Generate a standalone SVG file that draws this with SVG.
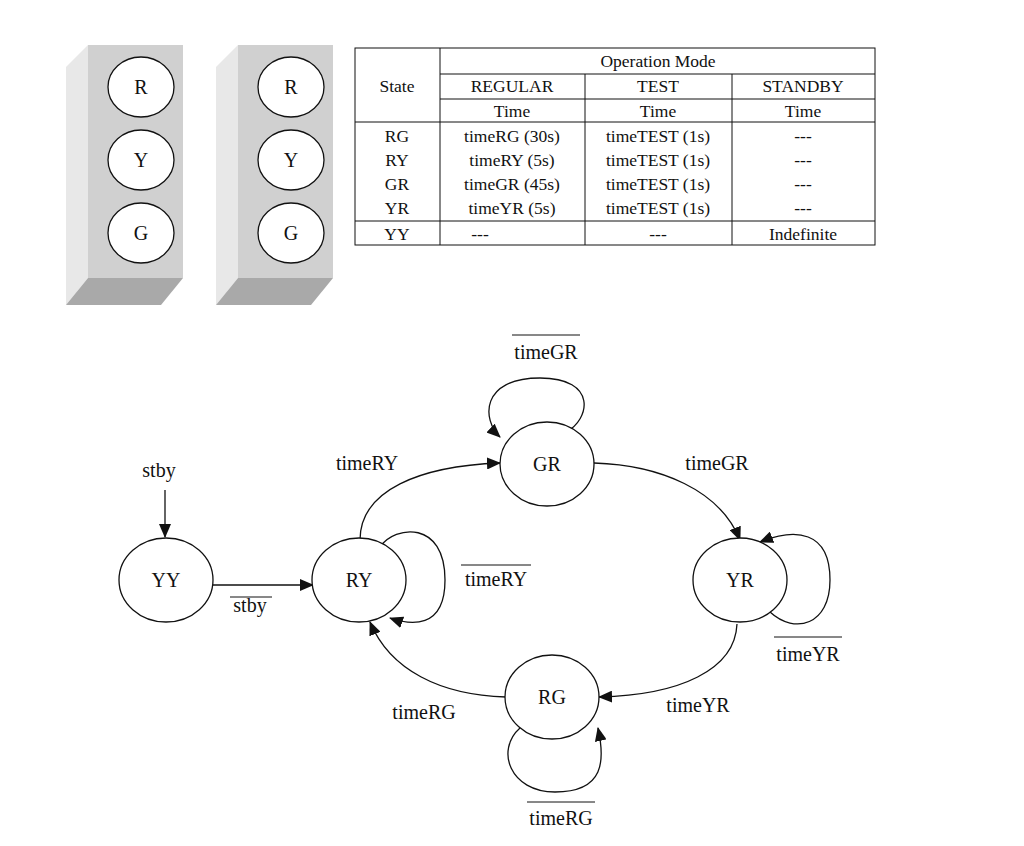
<svg xmlns="http://www.w3.org/2000/svg" width="1024" height="846" viewBox="0 0 1024 846" font-family="'Liberation Serif', 'DejaVu Serif', 'Times New Roman', serif">
<style>
text{font-family:'Liberation Serif','DejaVu Serif',serif;font-size:20px;fill:#111;text-anchor:middle}
text.t{font-size:17.5px}
.n{fill:#fff;stroke:#111;stroke-width:1.3}
.e{fill:none;stroke:#111;stroke-width:1.3}
.g{stroke:#111;stroke-width:1}
</style>
<defs><marker id="a" markerWidth="14" markerHeight="12" refX="13" refY="6" orient="auto" markerUnits="userSpaceOnUse"><path d="M0,0L14,6L0,12z" fill="#111"/></marker></defs>
<rect width="1024" height="846" fill="#fff"/>
<g id="light1">
<polygon points="66,67 88,45 88,278 66,305" fill="#e8e8e8"/>
<rect x="88" y="45" width="95" height="233" fill="#d0d0d0"/>
<polygon points="88,278 183,278 161,305 66,305" fill="#a9a9a9"/>
<ellipse class="n" cx="141" cy="87" rx="33" ry="30"/><text x="141" y="94">R</text>
<ellipse class="n" cx="141" cy="160" rx="33" ry="30"/><text x="141" y="167">Y</text>
<ellipse class="n" cx="141" cy="233" rx="33" ry="30"/><text x="141" y="240">G</text>
</g>
<g id="light2">
<polygon points="216,67 238,45 238,278 216,305" fill="#e8e8e8"/>
<rect x="238" y="45" width="95" height="233" fill="#d0d0d0"/>
<polygon points="238,278 333,278 311,305 216,305" fill="#a9a9a9"/>
<ellipse class="n" cx="291" cy="87" rx="33" ry="30"/><text x="291" y="94">R</text>
<ellipse class="n" cx="291" cy="160" rx="33" ry="30"/><text x="291" y="167">Y</text>
<ellipse class="n" cx="291" cy="233" rx="33" ry="30"/><text x="291" y="240">G</text>
</g>
<g id="table">
<rect x="355" y="48" width="520" height="197" fill="none" class="g"/>
<line class="g" x1="440" y1="48" x2="440" y2="245"/>
<line class="g" x1="440" y1="74" x2="875" y2="74"/>
<line class="g" x1="440" y1="99" x2="875" y2="99"/>
<line class="g" x1="355" y1="122" x2="875" y2="122"/>
<line class="g" x1="355" y1="221" x2="875" y2="221"/>
<line class="g" x1="585" y1="74" x2="585" y2="245"/>
<line class="g" x1="732" y1="74" x2="732" y2="245"/>
<text class="t" x="658" y="67">Operation Mode</text>
<text class="t" x="397" y="92">State</text>
<text class="t" x="512" y="92">REGULAR</text><text class="t" x="658" y="92">TEST</text><text class="t" x="803" y="92">STANDBY</text>
<text class="t" x="512" y="117">Time</text><text class="t" x="658" y="117">Time</text><text class="t" x="803" y="117">Time</text>
<text class="t" x="397" y="142">RG</text><text class="t" x="512" y="142">timeRG (30s)</text><text class="t" x="658" y="142">timeTEST (1s)</text><text class="t" x="803" y="142">---</text>
<text class="t" x="397" y="166">RY</text><text class="t" x="512" y="166">timeRY (5s)</text><text class="t" x="658" y="166">timeTEST (1s)</text><text class="t" x="803" y="166">---</text>
<text class="t" x="397" y="190">GR</text><text class="t" x="512" y="190">timeGR (45s)</text><text class="t" x="658" y="190">timeTEST (1s)</text><text class="t" x="803" y="190">---</text>
<text class="t" x="397" y="214">YR</text><text class="t" x="512" y="214">timeYR (5s)</text><text class="t" x="658" y="214">timeTEST (1s)</text><text class="t" x="803" y="214">---</text>
<text class="t" x="397" y="240">YY</text><text class="t" x="480" y="240">---</text><text class="t" x="658" y="240">---</text><text class="t" x="803" y="240">Indefinite</text>
</g>
<g id="connectors">
<line class="e" x1="165" y1="490" x2="165" y2="537" marker-end="url(#a)"/>
<line class="e" x1="213" y1="585" x2="313" y2="585" marker-end="url(#a)"/>
<path class="e" d="M360,540 C360,490 420,466 500,463" marker-end="url(#a)"/>
<path class="e" d="M594,463 C660,465 720,490 740,540" marker-end="url(#a)"/>
<path class="e" d="M737,624 C735,670 680,695 599,697" marker-end="url(#a)"/>
<path class="e" d="M506,697 C440,695 390,670 370,622" marker-end="url(#a)"/>
<path class="e" d="M566,432 C590,420 598,378 540,378 C480,378 482,420 500,437" marker-end="url(#a)"/>
<path class="e" d="M380,547 C395,525 445,520 445,580 C445,630 410,625 390,618" marker-end="url(#a)"/>
<path class="e" d="M770,612 C795,635 830,625 830,580 C830,530 795,528 760,542" marker-end="url(#a)"/>
<path class="e" d="M520,728 C495,750 510,792 555,792 C605,792 605,760 598,728" marker-end="url(#a)"/>
</g>
<g id="YY"><ellipse class="n" cx="166" cy="580" rx="47" ry="42"/><text x="166" y="587">YY</text></g>
<g id="RY"><ellipse class="n" cx="359" cy="580" rx="47" ry="42"/><text x="359" y="587">RY</text></g>
<g id="GR"><ellipse class="n" cx="547" cy="464" rx="47" ry="42"/><text x="547" y="471">GR</text></g>
<g id="YR"><ellipse class="n" cx="740" cy="580" rx="47" ry="42"/><text x="740" y="587">YR</text></g>
<g id="RG"><ellipse class="n" cx="552" cy="697" rx="47" ry="42"/><text x="552" y="704">RG</text></g>
<g id="labels">
<text x="159" y="477">stby</text>
<text x="250" y="612">stby</text><line class="g" x1="230" y1="597" x2="272" y2="597"/>
<text x="367" y="470">timeRY</text>
<text x="717" y="470">timeGR</text>
<text x="698" y="712">timeYR</text>
<text x="424" y="719">timeRG</text>
<text x="546" y="359">timeGR</text><line class="g" x1="512" y1="335" x2="580" y2="335"/>
<text x="496" y="586">timeRY</text><line class="g" x1="461" y1="565" x2="531" y2="565"/>
<text x="808" y="661">timeYR</text><line class="g" x1="774" y1="637" x2="842" y2="637"/>
<text x="561" y="825">timeRG</text><line class="g" x1="527" y1="802" x2="595" y2="802"/>
</g>
</svg>
